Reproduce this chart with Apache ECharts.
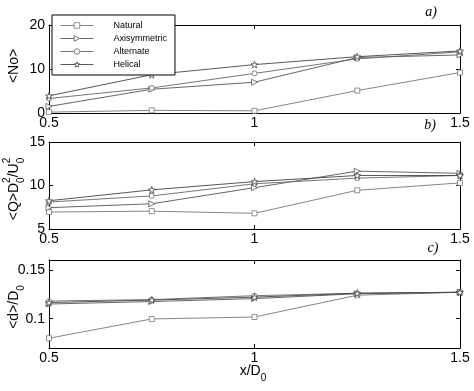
<!DOCTYPE html>
<html>
<head>
<meta charset="utf-8">
<script src="https://cdn.jsdelivr.net/npm/echarts@6/dist/echarts.min.js"></script>
<style>html,body{margin:0;padding:0;background:#fff}#c{width:474px;height:391px}</style>
</head>
<body>
<div id="c"></div>
<script>
const xs = [0.5, 0.75, 1, 1.25, 1.5];
const seriesNames = ['Natural', 'Axisymmetric', 'Alternate', 'Helical'];
// panel a: <No>
const natA = [0.2, 0.6, 0.5, 5.1, 9.2];
const axiA = [1.5, 5.4, 7.0, 12.6, 13.2];
const altA = [3.3, 5.7, 9.0, 12.3, 13.9];
const helA = [3.9, 8.7, 11.0, 12.8, 14.1];
// panel b: <Q>D0^2/U0^2
const natB = [6.95, 7.05, 6.8, 9.45, 10.3];
const axiB = [7.45, 7.9, 9.75, 11.65, 11.4];
const altB = [8.1, 8.8, 10.2, 10.85, 11.15];
const helB = [8.25, 9.5, 10.45, 11.15, 11.15];
// panel c: <d>/D0
const natC = [0.080, 0.0997, 0.1017, 0.124, 0.127];
const axiC = [0.115, 0.1175, 0.1205, 0.1255, 0.127];
const altC = [0.118, 0.1195, 0.1235, 0.126, 0.127];
const helC = [0.1165, 0.119, 0.122, 0.126, 0.127];
// tick labels
const xTicks = [0.5, 1, 1.5];
const yTicksA = [0, 10, 20];
const yTicksB = [5, 10, 15];
const yTicksC = [0.1, 0.15];

const panels = [[natA, axiA, altA, helA], [natB, axiB, altB, helB], [natC, axiC, altC, helC]];
const STAR = 'path://M50,0 L61,35 L98,35 L68,57 L79,91 L50,70 L21,91 L32,57 L2,35 L39,35 Z';
const TRI = 'path://M0,0 L10,5 L0,10 Z';
const symbols = ['rect', TRI, 'circle', STAR];
const symSizes = [5, 6, 5, 7];
const lineColors = ['#777', '#555', '#666', '#444'];

const FONT = 'Liberation Sans';
const grids = [
  {left: 49, top: 25, width: 411, height: 88},
  {left: 49, top: 142, width: 411, height: 87},
  {left: 49, top: 260, width: 411, height: 88}
];
const yRanges = [[0, 20, yTicksA], [5, 15, yTicksB], [0.07, 0.16, yTicksC]];

const xAxes = [], yAxes = [];
for (let i = 0; i < 3; i++) {
  xAxes.push({type: 'value', gridIndex: i, position: 'bottom', min: 0.5, max: 1.5,
    axisLine: {onZero: false, lineStyle: {color: '#000', width: 1}},
    axisTick: {inside: true, length: 4, customValues: xTicks, lineStyle: {color: '#000'}},
    axisLabel: {customValues: xTicks, color: '#000', fontSize: 14, fontFamily: FONT, margin: 3,
      formatter: v => String(v)},
    splitLine: {show: false}});
  xAxes.push({type: 'value', gridIndex: i, position: 'top', min: 0.5, max: 1.5,
    axisLine: {onZero: false, lineStyle: {color: '#000', width: 1}},
    axisTick: {inside: true, length: 4, customValues: xTicks, lineStyle: {color: '#000'}},
    axisLabel: {show: false}, splitLine: {show: false}});
  const r = yRanges[i];
  yAxes.push({type: 'value', gridIndex: i, position: 'left', min: r[0], max: r[1],
    axisLine: {onZero: false, lineStyle: {color: '#000', width: 1}},
    axisTick: {inside: true, length: 4, customValues: r[2], lineStyle: {color: '#000'}},
    axisLabel: {customValues: r[2], color: '#000', fontSize: 14, fontFamily: FONT, margin: 4,
      formatter: v => String(v)},
    splitLine: {show: false}});
  yAxes.push({type: 'value', gridIndex: i, position: 'right', min: r[0], max: r[1],
    axisLine: {onZero: false, lineStyle: {color: '#000', width: 1}},
    axisTick: {inside: true, length: 4, customValues: r[2], lineStyle: {color: '#000'}},
    axisLabel: {show: false}, splitLine: {show: false}});
}

const series = [];
panels.forEach((arrs, p) => {
  arrs.forEach((vals, k) => {
    series.push({
      type: 'line', name: seriesNames[k], xAxisIndex: p * 2, yAxisIndex: p * 2,
      data: xs.map((x, j) => [x, vals[j]]),
      symbol: symbols[k], symbolSize: symSizes[k], showSymbol: true,
      lineStyle: {color: lineColors[k], width: 0.9},
      itemStyle: {color: '#fff', borderColor: lineColors[k], borderWidth: 0.8},
      emphasis: {disabled: true}, animation: false, z: 3 + k
    });
  });
});

// measure text helper for composite axis names
const cv = document.createElement('canvas').getContext('2d');
function tw(t, size) { cv.font = size + 'px "' + FONT + '"'; return cv.measureText(t).width; }
function composite(cx, cy, parts, rotation) {
  let total = 0;
  parts.forEach(p => { if (!p.stack) total += tw(p.t, p.size); });
  let x = -total / 2;
  const children = [];
  parts.forEach(p => {
    children.push({type: 'text', x: x, y: p.dy,
      style: {text: p.t, fontSize: p.size, fontFamily: FONT, fill: '#000', align: 'left', verticalAlign: 'middle'}});
    if (!p.stack) x += tw(p.t, p.size);
  });
  return {type: 'group', x: cx, y: cy, rotation: rotation, children: children};
}

const graphic = [
  composite(14, 66, [{t: '<No>', size: 14, dy: 0}], Math.PI / 2),
  composite(14, 189, [
    {t: '<Q>D', size: 14, dy: 0},
    {t: '0', size: 10, dy: 7, stack: true},
    {t: '2', size: 10, dy: -7},
    {t: '/U', size: 14, dy: 0},
    {t: '0', size: 10, dy: 7, stack: true},
    {t: '2', size: 10, dy: -7}
  ], Math.PI / 2),
  composite(14, 307, [
    {t: '<d>/D', size: 14, dy: 0},
    {t: '0', size: 10, dy: 7}
  ], Math.PI / 2),
  composite(253, 371, [
    {t: 'x/D', size: 14, dy: 0},
    {t: '0', size: 10, dy: 7}
  ], 0),
  {type: 'text', x: 431, y: 12, style: {text: 'a)', fontSize: 14, fontStyle: 'italic', fontFamily: 'Liberation Serif', fill: '#000', align: 'center', verticalAlign: 'middle'}},
  {type: 'text', x: 430, y: 125, style: {text: 'b)', fontSize: 14, fontStyle: 'italic', fontFamily: 'Liberation Serif', fill: '#000', align: 'center', verticalAlign: 'middle'}},
  {type: 'text', x: 433, y: 248, style: {text: 'c)', fontSize: 14, fontStyle: 'italic', fontFamily: 'Liberation Serif', fill: '#000', align: 'center', verticalAlign: 'middle'}}
];

const chart = echarts.init(document.getElementById('c'), null, {renderer: 'canvas'});
chart.setOption({
  animation: false,
  backgroundColor: '#fff',
  grid: grids,
  xAxis: xAxes,
  yAxis: yAxes,
  legend: {
    data: seriesNames, orient: 'vertical', left: 52, top: 15,
    padding: [6, 8, 6, 8], itemGap: 4, itemWidth: 33, itemHeight: 7,
    backgroundColor: '#fff', borderColor: '#000', borderWidth: 1,
    itemStyle: {color: '#fff', borderWidth: 0.8},
    lineStyle: {width: 0.9},
    textStyle: {fontSize: 9, fontFamily: FONT, color: '#000', padding: [0, 0, 0, 15]},
    selectedMode: false, z: 10
  },
  series: series,
  graphic: graphic
});
</script>
</body>
</html>
